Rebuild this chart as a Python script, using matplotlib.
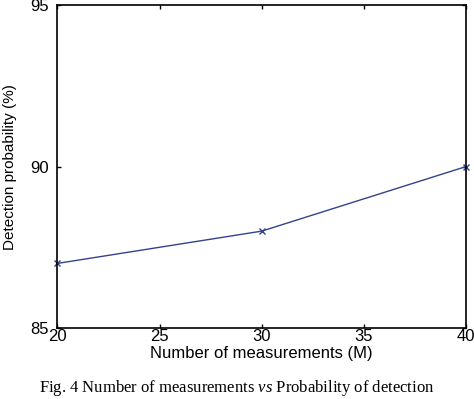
import matplotlib.pyplot as plt

plt.rcParams['mathtext.fontset'] = 'custom'
plt.rcParams['mathtext.rm'] = 'Liberation Serif'
plt.rcParams['mathtext.it'] = 'Liberation Serif:italic'

# measurements vs detection probability
measurements = [20, 30, 40]
detection_prob = [87, 88, 90]
x_ticks = [20, 25, 30, 35, 40]
y_ticks = [85, 90, 95]

fig = plt.figure(figsize=(4.74, 3.99), dpi=100)
ax = fig.add_axes([0.121, 0.178, 0.862, 0.809])

ax.plot(measurements, detection_prob, color='#33428f', lw=1.0,
        marker='x', markersize=5, markeredgewidth=1.0, clip_on=False)

ax.set_xlim(20, 40)
ax.set_ylim(85, 95)
ax.set_xticks(x_ticks)
ax.set_yticks(y_ticks)
ax.tick_params(direction='in', length=3, width=1, top=True, right=True,
               labelsize=12)
ax.tick_params(axis='x', pad=1)
ax.tick_params(axis='y', pad=6)
for lab in ax.get_xticklabels() + ax.get_yticklabels():
    lab.set_family('Liberation Sans')
for s in ax.spines.values():
    s.set_linewidth(1.2)

ax.set_xlabel('Number of measurements (M)', fontsize=12,
              family='Liberation Sans', labelpad=1)
ax.set_ylabel('Detection probability (%)', fontsize=11,
              family='Liberation Sans', labelpad=10)

fig.text(0.5, 0.002, 'Fig. 4 Number of measurements $\\it{vs}$ Probability of detection',
         ha='center', va='bottom', fontsize=12, family='Liberation Serif')

fig.savefig('out.png', dpi=100)
